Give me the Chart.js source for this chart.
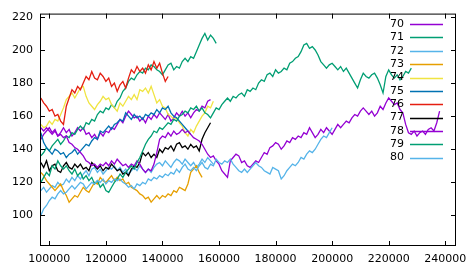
<!DOCTYPE html>
<html>
<head>
<meta charset="utf-8">
<script src="https://cdn.jsdelivr.net/npm/chart.js@4"></script>
<style>
  body { margin: 0; background: #fff; }
  #wrap { width: 474px; height: 269px; }
</style>
</head>
<body>
<div id="wrap"><canvas id="chart"></canvas></div>
<script>
// samples every 1000 steps, first one at 97000
const X0 = 97000;
const STEP = 1000;

const names = ['70', '71', '72', '73', '74', '75', '76', '77', '78', '79', '80'];
const xTicks = [100000, 120000, 140000, 160000, 180000, 200000, 220000, 240000];
const yTicks = [100, 120, 140, 160, 180, 200, 220];

const s70 = [146,149,151,153,150,152,148,150,153,150,152,148,150,153,151,153,149,150,147,149,146,150,148,151,150,153,152,155,158,156,160,163,161,159,160,157,159,156,160,158,161,159,162,160,158,161,157,159,162,160,163,160,162,159,162,164,163,166,165,169,170];
const s71 = [136,138,141,139,142,144,146,143,145,148,147,150,149,152,154,152,156,155,158,157,161,163,162,165,164,167,165,169,171,175,177,181,183,182,185,187,186,189,188,191,190,188,187,185,188,191,192,188,190,189,193,195,193,196,195,199,203,207,210,206,209,207,204];
const s72 = [115,117,114,116,118,117,120,118,119,122,120,123,121,124,122,125,127,124,128,129,126,128,125,127,129,128,130,127,129,126,128,125,127,129,127,130,128,126,128,126,129,131,132,130,133,131,129,132,134,133,131,134,132,130,132,129,131,134,132,135,133,131];
const s73 = [126,124,121,119,117,115,117,119,115,112,108,110,112,111,114,117,115,114,117,120,119,123,121,120,122,124,121,123,121,122,119,120,117,116,115,113,112,110,111,108,110,112,110,112,111,113,112,115,114,117,116,115,119,126,128,130,126,123];
const s74 = [155,153,154,157,155,158,157,161,165,170,172,174,171,174,177,178,172,168,166,164,167,169,172,170,171,167,165,163,168,166,169,172,170,173,170,176,175,177,174,178,173,168,170,166,165,161,160,158,159,156,154,150,148,152,150,154,157,160,162,166,165,169];
const s75 = [150,144,141,139,137,140,139,137,138,135,137,138,140,137,139,141,143,142,145,147,146,151,150,152,154,152,155,156,158,157,162,160,158,161,159,160,158,161,160,162,161,164,162,165,164,166,162,160,159,157,155,153,151,149];
const s76 = [171,168,166,163,164,160,161,157,155,166,171,176,174,178,176,180,184,182,187,183,182,186,184,181,183,178,180,175,179,181,177,183,188,186,190,187,189,186,191,188,193,189,192,186,181,184];
const s77 = [132,129,133,127,130,131,127,126,130,132,129,128,131,129,131,128,129,127,132,130,128,130,127,129,128,131,129,127,128,125,126,124,128,130,129,132,138,136,138,135,137,135,140,138,141,140,142,139,143,144,141,142,140,143,141,142,139,146,150,153,156];
const s78 = [153,151,153,151,149,151,148,149,147,148,144,143,141,140,138,136,133,132,130,131,129,131,130,132,130,133,131,134,132,130,131,129,131,130,133,131,128,126,128,127,131,138,146,148,147,150,148,151,149,150,152,150,151,149,147,146,145,143,140,137,135,136,133,131,127,125,123,133,135,137,136,132,133,130,129,131,133,132,135,138,137,141,142,144,143,140,142,145,144,147,146,148,147,150,149,153,150,147,149,152,150,153,151,149,152,155,153,155,157,156,159,161,160,163,165,163,161,163,160,162,166,164,168,171,169,167,168,164,162,155,150,149,151,148,150,151,149,152,153,151,156,163];
const s79 = [120,123,126,124,130,128,133,130,128,130,127,125,128,124,126,122,124,121,123,119,121,117,119,115,114,117,120,122,125,123,126,128,130,128,132,135,139,143,146,148,151,150,153,152,154,156,155,158,157,160,161,163,162,165,164,166,163,165,162,161,159,162,165,164,167,169,171,169,172,171,173,174,172,176,175,177,176,180,182,181,185,186,184,188,186,187,189,188,192,193,195,196,199,203,204,201,202,200,197,193,191,189,191,192,190,188,190,187,189,186,183,180,177,182,186,184,183,185,186,183,179,174,184,188,185,183,185,182,184,187,186,189];
const s80 = [100,104,106,109,111,110,113,115,113,114,116,118,116,118,120,119,116,118,120,119,121,120,122,119,121,120,122,121,122,120,119,117,118,116,119,118,120,119,122,121,123,122,124,123,125,124,126,125,128,126,129,131,128,127,129,127,130,132,129,128,131,130,134,132,131,133,132,134,131,129,127,126,128,126,128,130,132,130,129,127,126,125,129,128,127,122,124,127,129,131,130,132,135,134,137,139,138,140,143,146,148,147,150,153];

const series = [s70, s71, s72, s73, s74, s75, s76, s77, s78, s79, s80];
const colors = ['#9400d3', '#009e73', '#56b4e9', '#e69f00', '#f0e442', '#0072b2',
                '#e51e10', '#000000', '#9400d3', '#009e73', '#56b4e9'];

const font = { family: 'DejaVu Sans', size: 11 };

const datasets = series.map((vals, i) => ({
  label: names[i],
  data: vals.map((v, k) => ({ x: X0 + k * STEP, y: v })),
  borderColor: colors[i],
  borderWidth: 1.3,
  pointRadius: 0,
  tension: 0,
  fill: false,
  order: series.length - i
}));

// gnuplot-like frame with inward ticks, and the key in the top right corner
const framePlugin = {
  id: 'frame',
  afterDatasetsDraw(chart) {
    const { ctx, chartArea: a, scales } = chart;
    ctx.save();
    ctx.strokeStyle = '#000';
    ctx.lineWidth = 1;
    ctx.strokeRect(a.left + 0.5, a.top + 0.5, a.right - a.left - 1, a.bottom - a.top - 1);
    ctx.beginPath();
    xTicks.forEach(v => {
      const px = Math.round(scales.x.getPixelForValue(v)) + 0.5;
      ctx.moveTo(px, a.bottom); ctx.lineTo(px, a.bottom - 5);
      ctx.moveTo(px, a.top); ctx.lineTo(px, a.top + 5);
    });
    yTicks.forEach(v => {
      const py = Math.round(scales.y.getPixelForValue(v)) + 0.5;
      ctx.moveTo(a.left, py); ctx.lineTo(a.left + 5, py);
      ctx.moveTo(a.right, py); ctx.lineTo(a.right - 5, py);
    });
    ctx.stroke();

    ctx.font = font.size + 'px ' + font.family;
    ctx.textAlign = 'right';
    ctx.textBaseline = 'middle';
    ctx.lineWidth = 1.3;
    names.forEach((n, i) => {
      const y = a.top + 10.5 + i * 13.35;
      ctx.fillStyle = '#000';
      ctx.fillText(n, a.right - 52, y);
      ctx.strokeStyle = colors[i];
      ctx.beginPath();
      ctx.moveTo(a.right - 46, Math.round(y) + 0.5);
      ctx.lineTo(a.right - 13, Math.round(y) + 0.5);
      ctx.stroke();
    });
    ctx.restore();
  }
};

new Chart(document.getElementById('chart'), {
  type: 'line',
  data: { datasets },
  options: {
    responsive: true,
    maintainAspectRatio: false,
    animation: false,
    layout: { padding: { top: 12, right: 18, left: 0, bottom: 0 } },
    plugins: { legend: { display: false }, tooltip: { enabled: false } },
    scales: {
      x: {
        type: 'linear',
        min: 96700,
        max: 243800,
        grid: { display: false, drawTicks: false },
        border: { display: false },
        afterBuildTicks: s => { s.ticks = xTicks.map(v => ({ value: v })); },
        afterFit: s => { s.height = 23; },
        ticks: { font, color: '#000', padding: 7, maxRotation: 0, autoSkip: false,
                 callback: v => String(v) }
      },
      y: {
        min: 81.5,
        max: 222,
        grid: { display: false, drawTicks: false },
        border: { display: false },
        afterBuildTicks: s => { s.ticks = yTicks.map(v => ({ value: v })); },
        afterFit: s => { s.width = 40; },
        ticks: { font, color: '#000', padding: 7, callback: v => String(v) }
      }
    }
  },
  plugins: [framePlugin]
});
</script>
</body>
</html>
